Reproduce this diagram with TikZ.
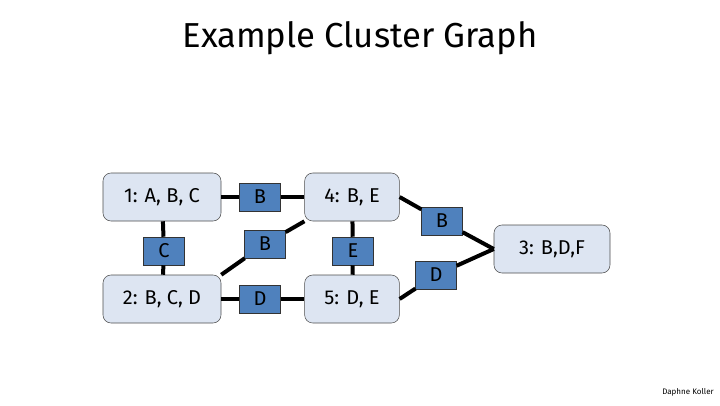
\documentclass[tikz,border=0pt]{standalone}
\usepackage{fontspec}
\setmainfont{Fira Sans}
\definecolor{clfill}{RGB}{221,229,242}
\definecolor{sepfill}{RGB}{79,129,189}
\tikzstyle{cluster} = [rectangle,rounded corners=6pt,draw=black!70,fill=clfill,minimum width=88.5pt,minimum height=36pt,font=\fontsize{15}{18}\selectfont]
\tikzstyle{sepset} = [rectangle,draw=black!80,fill=sepfill,minimum width=30.5pt,minimum height=21pt,font=\fontsize{15}{18}\selectfont]
\tikzstyle{edge} = [line width=3pt]

\begin{document}
\begin{tikzpicture}[x=0.75pt,y=-0.75pt]
\useasboundingbox (0,0) rectangle (720,405);

% title
\node (title) at (360,38) {\fontsize{26}{30}\selectfont Example Cluster Graph};

% clusters
\node[cluster] (c1) at (162,197) {1: A, B, C};
\node[cluster] (c2) at (162,299) {2: B, C, D};
\node[cluster,minimum width=71pt] (c4) at (352,197) {4: B, E};
\node[cluster,minimum width=71pt] (c5) at (352,299) {5: D, E};
\node[cluster,minimum width=87pt] (c3) at (552,249) {3: B,D,F};

% sepsets
\node[sepset] (s14) at (260,197) {B};
\node[sepset] (s12) at (164,251) {C};
\node[sepset] (s24) at (265,244) {B};
\node[sepset] (s45) at (353,251) {E};
\node[sepset] (s25) at (260,299) {D};
\node[sepset] (s43) at (442,221) {B};
\node[sepset] (s53) at (436,275) {D};

% edges
\draw[edge] (c1) -- (s14) -- (c4);
\draw[edge] (c1) -- (s12) -- (c2);
\draw[edge] (c2.north east) -- (s24) -- (c4.south west);
\draw[edge] (c4) -- (s45) -- (c5);
\draw[edge] (c2) -- (s25) -- (c5);
\draw[edge] (c4.east) -- (s43) -- (c3.west);
\draw[edge] (c5.east) -- (s53) -- (c3.west);

\node (credit) at (688,392) {\fontsize{6}{7}\selectfont Daphne Koller};

\end{tikzpicture}
\end{document}
